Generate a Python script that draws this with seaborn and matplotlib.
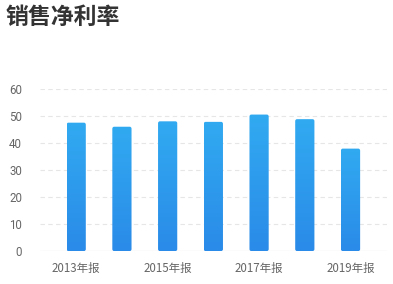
import matplotlib
matplotlib.use("Agg")
import matplotlib.pyplot as plt
import seaborn as sns
import numpy as np
import pandas as pd
from matplotlib.colors import LinearSegmentedColormap
from matplotlib.patches import FancyBboxPatch

categories = ["2013年报", "2014年报", "2015年报", "2016年报", "2017年报", "2018年报", "2019年报"]
values = [47.5, 46.0, 48.0, 47.8, 50.5, 48.8, 37.9]
shown_labels = ["2013年报", "", "2015年报", "", "2017年报", "", "2019年报"]
yticks = [0, 10, 20, 30, 40, 50, 60]

sns.set_theme(style="white")
plt.rcParams['font.family'] = ['Noto Sans CJK SC', 'DejaVu Sans']

fig = plt.figure(figsize=(3.93, 2.84), dpi=100)
ax = fig.add_axes([0.102, 0.116, 0.883, 0.571])

df = pd.DataFrame({"cat": categories, "val": values})
sns.barplot(data=df, x="cat", y="val", ax=ax, color="#2d9bec", width=0.42, zorder=3)

ax.set_xlim(-0.79, 6.8)
ax.set_ylim(0, 60)

cmap = LinearSegmentedColormap.from_list("g", ["#2a8be8", "#31aaf1"])
grad = np.linspace(0, 1, 256).reshape(-1, 1)
for p in list(ax.patches):
    x0, y0 = p.get_x(), p.get_y()
    w, h = p.get_width(), p.get_height()
    p.set_visible(False)
    clip = FancyBboxPatch((x0, y0), w, h, boxstyle="round,pad=0,rounding_size=0.04",
                          mutation_aspect=60/0.4*0.12, transform=ax.transData,
                          facecolor="none", edgecolor="none")
    ax.add_patch(clip)
    im = ax.imshow(grad, extent=[x0, x0 + w, y0, y0 + h], origin="lower",
                   cmap=cmap, aspect="auto", zorder=3)
    im.set_clip_path(clip)

ax.set_xlim(-0.79, 6.8)
ax.set_ylim(0, 60)

for yv in yticks[1:]:
    ax.axhline(yv, color="#e6e6e6", lw=0.8, ls=(0, (4, 3)), zorder=1)
ax.axhline(0, color="#e6e6e6", lw=0.9, zorder=1)

for s in ax.spines.values():
    s.set_visible(False)

ax.set_yticks(yticks)
ax.set_yticklabels([str(v) for v in yticks])
ax.set_xticks(range(len(categories)))
ax.set_xticklabels(shown_labels)
ax.tick_params(axis="y", length=0, pad=13, labelsize=8.3, labelcolor="#666666")
ax.tick_params(axis="x", length=0, pad=8, labelsize=8.3, labelcolor="#666666")
for t in ax.get_yticklabels():
    t.set_fontfamily(['Roboto', 'DejaVu Sans'])
ax.set_xlabel("")
ax.set_ylabel("")

fig.text(0.013, 0.94, "销售净利率", fontsize=16.5, fontweight="bold", color="#333333",
         ha="left", va="center")

fig.savefig("out.png", dpi=100)
